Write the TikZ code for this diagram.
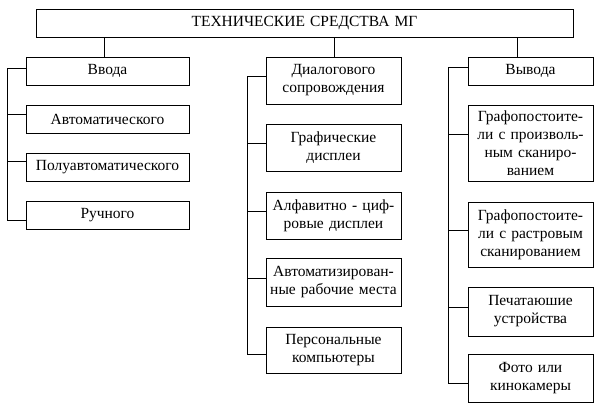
\documentclass[tikz,border=0pt]{standalone}
\usepackage{fontspec}
\setmainfont{Liberation Serif}
\usepackage{tikz}
\tikzset{box/.style={draw, line width=1pt, align=center, inner xsep=2pt, inner ysep=0pt},
  link/.style={line width=1pt, line cap=rect}}
\begin{document}
\begin{tikzpicture}[x=1pt, y=-1pt, font=\fontsize{15.5}{18}\selectfont]
        \useasboundingbox (0,0) rectangle (614,418);
        \node[box, text width=533pt, minimum height=28pt] (title) at (304.5,23) {ТЕХНИЧЕСКИЕ СРЕДСТВА МГ};
        \foreach \n/\y/\h/\t in {inp/71/28/{Ввода}, auto/119/28/{Автоматического}, semi/167/28/{Полуавтоматического}, manual/215.5/28/{Ручного}}{
        \node[box, text width=159pt, minimum height=\h pt] (\n) at (107.5,\y) {\t};}
        \foreach \n/\y/\h/\t in {dlg/80.5/47/{Диалогового\\сопровождения}, graph/147.5/47/{Графические\\дисплеи}, alpha/215.5/47/{Алфавитно - циф-\\ровые дисплеи}, arm/282/48/{Автоматизирован-\\ные рабочие места}, pc/350/46/{Персональные\\компьютеры}}{
        \node[box, text width=131pt, minimum height=\h pt] (\n) at (333.5,\y) {\t};}
        \foreach \n/\y/\h/\t in {outp/71/28/{Вывода}, vec/143/76/{Графопостоите-\\ли с произволь-\\ным сканиро-\\ванием}, rast/234.5/65/{Графопостоите-\\ли с растровым\\сканированием}, prn/311.5/49/{Печатаюшие\\устройства}, photo/378/48/{Фото или\\кинокамеры}}{
        \node[box, text width=121pt, minimum height=\h pt] (\n) at (530.5,\y) {\t};}
        \foreach \n/\s in {inp/-3.5, dlg/0.5, outp/-13.5}{
        \draw[link] ([xshift=\s pt]\n.north) -- ([xshift=\s pt]\n.north |- title.south);}
        \coordinate (spL) at (7,0);
        \coordinate (spC) at (247,0);
        \coordinate (spR) at (448,0);
        \foreach \n/\d/\s in {inp/3/spL, auto/5/spL, semi/6/spL, manual/-5/spL, dlg/4.5/spC, graph/4.5/spC, alpha/4.5/spC, arm/4/spC, pc/-4/spC, outp/4/spR, vec/9/spR, rast/4.5/spR, prn/4.5/spR, photo/-5/spR}{
        \draw[link] ([yshift=\d pt]\n.west) -- ([yshift=\d pt]\s |- \n.west);}
        \draw[link] ([yshift=3pt]spL |- inp.west) -- ([yshift=-5pt]spL |- manual.west);
        \draw[link] ([yshift=4.5pt]spC |- dlg.west) -- ([yshift=-4pt]spC |- pc.west);
        \draw[link] ([yshift=4pt]spR |- outp.west) -- ([yshift=-5pt]spR |- photo.west);
\end{tikzpicture}
\end{document}
